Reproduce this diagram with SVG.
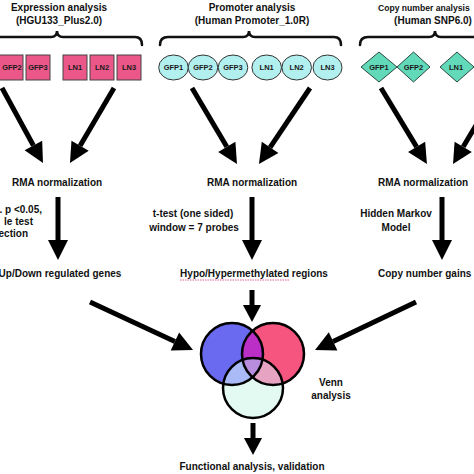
<svg xmlns="http://www.w3.org/2000/svg" width="474" height="474" viewBox="0 0 474 474">
<style>
text{font-family:"Liberation Sans",Arial,sans-serif;font-weight:bold;font-size:10px;fill:#111}
.c{text-anchor:middle}
.e{text-anchor:end}
.s{font-size:7.5px;text-anchor:middle;fill:#1a1a1a}
.brace{fill:none;stroke:#111;stroke-width:2.6;stroke-linecap:round}
.sq{fill:#ea5788;stroke:#444;stroke-width:1}
.el{fill:#b2f0f0;stroke:#333;stroke-width:1}
.dm{fill:#62d9b9;stroke:#2c4a44;stroke-width:1}
.ar{stroke:#000;stroke-width:5;fill:none}
.big{marker-end:url(#hb)}
.sm{marker-end:url(#hs)}
.vo{fill:none;stroke:#000;stroke-width:2.5}
</style>
<defs>
<marker id="hb" markerUnits="userSpaceOnUse" markerWidth="21" markerHeight="21" refX="0" refY="10" orient="auto" overflow="visible"><path d="M0,0 L20,10 L0,20 z" fill="#000"/></marker>
<marker id="hs" markerUnits="userSpaceOnUse" markerWidth="19" markerHeight="19" refX="0" refY="9" orient="auto" overflow="visible"><path d="M0,0 L17,9 L0,18 z" fill="#000"/></marker>
<clipPath id="cb"><circle cx="232" cy="354" r="31"/></clipPath>
<clipPath id="cp"><circle cx="273" cy="354" r="31"/></clipPath>
</defs>

<g id="expression">
<text class="c" x="59" y="11">Expression analysis</text>
<text class="c" x="59" y="24">(HGU133_Plus2.0)</text>
<path class="brace" d="M-30,45 Q-30,37 -22,37 L51,37 Q57,37 57,31 Q57,37 63,37 L135,37 Q142,37 142,45"/>
<rect class="sq" x="-1" y="55" width="24" height="25"/><text class="s" x="12" y="70">GFP2</text>
<rect class="sq" x="26" y="55" width="24" height="25"/><text class="s" x="38" y="70">GFP3</text>
<rect class="sq" x="63" y="55" width="24" height="25"/><text class="s" x="75" y="70">LN1</text>
<rect class="sq" x="90" y="55" width="24" height="25"/><text class="s" x="102" y="70">LN2</text>
<rect class="sq" x="117" y="55" width="24" height="25"/><text class="s" x="129" y="70">LN3</text>
</g>

<g id="promoter">
<text class="c" x="252" y="11">Promoter analysis</text>
<text class="c" x="252" y="24">(Human Promoter_1.0R)</text>
<path class="brace" d="M160,45 Q160,37 168,37 L243,37 Q249,37 249,31 Q249,37 255,37 L334,37 Q341,37 341,45"/>
<ellipse class="el" cx="173.5" cy="67.5" rx="14.8" ry="12.5"/><text class="s" x="173.5" y="70">GFP1</text>
<ellipse class="el" cx="203" cy="67.5" rx="14.8" ry="12.5"/><text class="s" x="203" y="70">GFP2</text>
<ellipse class="el" cx="233" cy="67.5" rx="14.8" ry="12.5"/><text class="s" x="233" y="70">GFP3</text>
<ellipse class="el" cx="266.7" cy="67.5" rx="14.8" ry="12.5"/><text class="s" x="266.7" y="70">LN1</text>
<ellipse class="el" cx="296.7" cy="67.5" rx="14.8" ry="12.5"/><text class="s" x="296.7" y="70">LN2</text>
<ellipse class="el" cx="327.5" cy="67.5" rx="14.5" ry="12.5"/><text class="s" x="327.5" y="70">LN3</text>
</g>

<g id="copynumber">
<text x="378" y="11" style="font-size:8.6px">Copy number analysis</text>
<text class="c" x="433" y="24">(Human SNP6.0)</text>
<path class="brace" d="M360,45 Q360,37 368,37 L429,37 Q435,37 435,31 Q435,37 441,37 L520,37"/>
<polygon class="dm" points="361,67 379,52 397,67 379,82"/><text class="s" x="379" y="70">GFP1</text>
<polygon class="dm" points="397,67 413.5,52 430,67 413.5,82"/><text class="s" x="413.5" y="70">GFP2</text>
<polygon class="dm" points="440,67 457,52 474,67 457,82"/><text class="s" x="456" y="70">LN1</text>
</g>

<g id="connectors">
<line class="ar big" x1="2" y1="88" x2="33.4" y2="145.5"/>
<line class="ar big" x1="114" y1="88" x2="80.1" y2="145.7"/>
<line class="ar big" x1="192" y1="88" x2="226.8" y2="146.8"/>
<line class="ar big" x1="310" y1="88" x2="270.1" y2="147.4"/>
<line class="ar big" x1="381" y1="88" x2="416.6" y2="146.9"/>
<line class="ar big" x1="498" y1="88" x2="463.2" y2="146.8"/>
<line class="ar big" x1="58" y1="197" x2="58" y2="240"/>
<line class="ar big" x1="252" y1="197" x2="252" y2="240"/>
<line class="ar big" x1="442" y1="197" x2="442" y2="240"/>
<line class="ar sm" x1="252" y1="290" x2="252" y2="305"/>
<line class="ar big" x1="90" y1="302" x2="174.9" y2="341.5"/>
<line class="ar big" x1="416" y1="302" x2="333.1" y2="341.4"/>
<line class="ar sm" x1="253" y1="423" x2="253" y2="438"/>
</g>

<g id="rma">
<text class="c" x="57" y="186">RMA normalization</text>
<text class="c" x="252" y="186">RMA normalization</text>
<text x="378" y="186">RMA normalization</text>
</g>

<g id="methods">
<text class="e" x="42" y="213">. p &lt;0.05,</text>
<text class="e" x="33" y="225">le test</text>
<text class="e" x="28" y="237">ection</text>
<text class="c" x="193" y="217">t-test (one sided)</text>
<text class="c" x="194" y="231">window = 7 probes</text>
<text class="c" x="396" y="217">Hidden Markov</text>
<text class="c" x="396" y="231">Model</text>
</g>

<g id="results">
<text class="c" x="60" y="277">Up/Down regulated genes</text>
<text class="c" x="254" y="277">Hypo/Hypermethylated regions</text>
<path d="M180,280 L289,280" stroke="#e0609a" stroke-width="1" stroke-dasharray="1.5,1" fill="none"/>
<text x="378" y="277">Copy number gains</text>
</g>

<g id="venn">
<circle cx="232" cy="354" r="31" fill="#6a6af0"/>
<circle cx="273" cy="354" r="31" fill="#f5557f"/>
<circle cx="253" cy="388" r="30" fill="#e2faf2"/>
<g clip-path="url(#cb)">
<circle cx="273" cy="354" r="31" fill="#bb2fc6"/>
<circle cx="253" cy="388" r="30" fill="#a9baf7"/>
</g>
<g clip-path="url(#cp)">
<circle cx="253" cy="388" r="30" fill="#e6a3c2"/>
</g>
<g clip-path="url(#cb)"><g clip-path="url(#cp)">
<circle cx="253" cy="388" r="30" fill="#b98ddd"/>
</g></g>
<circle class="vo" cx="232" cy="354" r="31"/>
<circle class="vo" cx="273" cy="354" r="31"/>
<circle class="vo" cx="253" cy="388" r="30"/>
<text class="c" x="331" y="386">Venn</text>
<text class="c" x="331" y="399">analysis</text>
</g>

<g id="functional">
<text class="c" x="252" y="470">Functional analysis, validation</text>
</g>
</svg>
